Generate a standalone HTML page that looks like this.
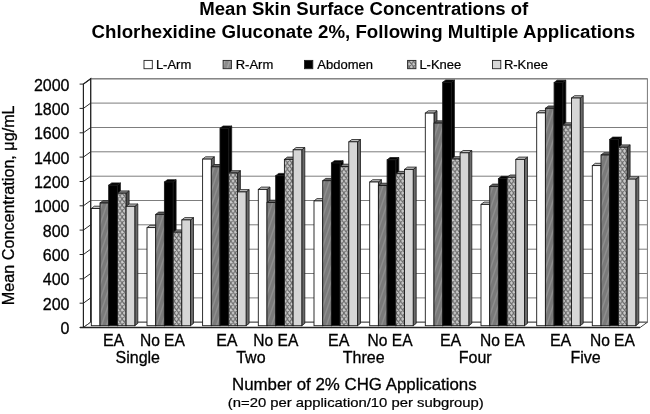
<!DOCTYPE html>
<html><head><meta charset="utf-8"><title>Mean Skin Surface Concentrations</title>
<style>
html,body{margin:0;padding:0;background:#fff;}
body{width:650px;height:414px;position:relative;overflow:hidden;}
.tb{font-family:"Liberation Sans",sans-serif;fill:#000;}
.ts{font-family:"Liberation Sans",sans-serif;fill:#000;stroke:#000;stroke-width:0.22px;}
.t{font-family:"Liberation Sans",sans-serif;fill:#000;stroke:#000;stroke-width:0.3px;}
</style></head><body>
<svg width="650" height="414" viewBox="0 0 650 414" style="position:absolute;left:0;top:0;filter:blur(0.45px)">
<defs>
<pattern id="pRA" width="5" height="15" patternUnits="userSpaceOnUse"><rect width="5" height="15" fill="#7a7a7a"/><path d="M-1,18 L6,-3 M-6,18 L1,-3 M4,18 L11,-3" stroke="#8e8e8e" stroke-width="1.4"/></pattern>
<pattern id="pRAl" width="5" height="15" patternUnits="userSpaceOnUse"><rect width="5" height="15" fill="#8c8c8c"/><path d="M-1,18 L6,-3 M-6,18 L1,-3 M4,18 L11,-3" stroke="#a4a4a4" stroke-width="1.4"/></pattern>
<pattern id="pLK" width="4.35" height="6.0" patternUnits="userSpaceOnUse" x="0.3" y="1"><rect width="4.35" height="6.0" fill="#c8c8c8"/><path d="M-6.52,-3.00 L2.17,9.00 M-6.52,9.00 L2.17,-3.00 M-2.17,-3.00 L6.52,9.00 M-2.17,9.00 L6.52,-3.00 M2.17,-3.00 L10.88,9.00 M2.17,9.00 L10.88,-3.00 " stroke="#6c6c6c" stroke-width="1.05" fill="none"/></pattern>
</defs>
<rect x="90.7" y="78.8" width="556.7" height="243.4" fill="#fff" stroke="#777" stroke-width="1"/>
<path d="M79.6,327.5 H83.4 L90.7,322.2" fill="none" stroke="#2a2a2a" stroke-width="1"/>
<path d="M90.7,297.9 H647.4" fill="none" stroke="#7d7d7d" stroke-width="1"/>
<path d="M79.6,303.2 H83.4 L90.7,297.9" fill="none" stroke="#2a2a2a" stroke-width="1"/>
<path d="M90.7,273.5 H647.4" fill="none" stroke="#7d7d7d" stroke-width="1"/>
<path d="M79.6,278.8 H83.4 L90.7,273.5" fill="none" stroke="#2a2a2a" stroke-width="1"/>
<path d="M90.7,249.2 H647.4" fill="none" stroke="#7d7d7d" stroke-width="1"/>
<path d="M79.6,254.5 H83.4 L90.7,249.2" fill="none" stroke="#2a2a2a" stroke-width="1"/>
<path d="M90.7,224.8 H647.4" fill="none" stroke="#7d7d7d" stroke-width="1"/>
<path d="M79.6,230.1 H83.4 L90.7,224.8" fill="none" stroke="#2a2a2a" stroke-width="1"/>
<path d="M90.7,200.5 H647.4" fill="none" stroke="#7d7d7d" stroke-width="1"/>
<path d="M79.6,205.8 H83.4 L90.7,200.5" fill="none" stroke="#2a2a2a" stroke-width="1"/>
<path d="M90.7,176.2 H647.4" fill="none" stroke="#7d7d7d" stroke-width="1"/>
<path d="M79.6,181.5 H83.4 L90.7,176.2" fill="none" stroke="#2a2a2a" stroke-width="1"/>
<path d="M90.7,151.8 H647.4" fill="none" stroke="#7d7d7d" stroke-width="1"/>
<path d="M79.6,157.1 H83.4 L90.7,151.8" fill="none" stroke="#2a2a2a" stroke-width="1"/>
<path d="M90.7,127.5 H647.4" fill="none" stroke="#7d7d7d" stroke-width="1"/>
<path d="M79.6,132.8 H83.4 L90.7,127.5" fill="none" stroke="#2a2a2a" stroke-width="1"/>
<path d="M90.7,103.1 H647.4" fill="none" stroke="#7d7d7d" stroke-width="1"/>
<path d="M79.6,108.4 H83.4 L90.7,103.1" fill="none" stroke="#2a2a2a" stroke-width="1"/>
<path d="M90.7,78.8 H647.4" fill="none" stroke="#7d7d7d" stroke-width="1"/>
<path d="M79.6,84.1 H83.4 L90.7,78.8" fill="none" stroke="#2a2a2a" stroke-width="1"/>
<path d="M83.4,327.5 V84.1 L90.7,78.8 V322.2" fill="none" stroke="#222" stroke-width="1.2"/>
<path d="M83.4,327.5 L90.7,322.2 H647.4 L640.1,327.5 Z" fill="#fff" stroke="#444" stroke-width="1"/>
<path d="M100.0,208.5 l3.0,-2.3 V323.4 L100.0,325.7 Z" fill="#626262" stroke="#1a1a1a" stroke-width="0.8"/>
<path d="M91.3,208.5 l3.0,-2.3 h8.7 L100.0,208.5 Z" fill="#c4c4c4" stroke="#1a1a1a" stroke-width="0.8"/>
<rect x="91.3" y="208.5" width="8.7" height="117.2" fill="#ffffff" stroke="#1a1a1a" stroke-width="0.9"/>
<path d="M108.7,203.0 l3.0,-2.3 V323.4 L108.7,325.7 Z" fill="#444444" stroke="#1a1a1a" stroke-width="0.8"/>
<path d="M100.0,203.0 l3.0,-2.3 h8.7 L108.7,203.0 Z" fill="#666666" stroke="#1a1a1a" stroke-width="0.8"/>
<rect x="100.0" y="203.0" width="8.7" height="122.7" fill="url(#pRA)" stroke="#1a1a1a" stroke-width="0.9"/>
<path d="M117.4,185.2 l3.0,-2.3 V323.4 L117.4,325.7 Z" fill="#000000" stroke="#1a1a1a" stroke-width="0.8"/>
<path d="M108.7,185.2 l3.0,-2.3 h8.7 L117.4,185.2 Z" fill="#000000" stroke="#1a1a1a" stroke-width="0.8"/>
<rect x="108.7" y="185.2" width="8.7" height="140.5" fill="#000000" stroke="#1a1a1a" stroke-width="0.9"/>
<path d="M126.1,193.2 l3.0,-2.3 V323.4 L126.1,325.7 Z" fill="#505050" stroke="#1a1a1a" stroke-width="0.8"/>
<path d="M117.4,193.2 l3.0,-2.3 h8.7 L126.1,193.2 Z" fill="#8a8a8a" stroke="#1a1a1a" stroke-width="0.8"/>
<rect x="117.4" y="193.2" width="8.7" height="132.5" fill="url(#pLK)" stroke="#1a1a1a" stroke-width="0.9"/>
<path d="M134.8,206.3 l3.0,-2.3 V323.4 L134.8,325.7 Z" fill="#6a6a6a" stroke="#1a1a1a" stroke-width="0.8"/>
<path d="M126.1,206.3 l3.0,-2.3 h8.7 L134.8,206.3 Z" fill="#c0c0c0" stroke="#1a1a1a" stroke-width="0.8"/>
<rect x="126.1" y="206.3" width="8.7" height="119.4" fill="#d6d6d6" stroke="#1a1a1a" stroke-width="0.9"/>
<path d="M155.7,227.6 l3.0,-2.3 V323.4 L155.7,325.7 Z" fill="#626262" stroke="#1a1a1a" stroke-width="0.8"/>
<path d="M147.0,227.6 l3.0,-2.3 h8.7 L155.7,227.6 Z" fill="#c4c4c4" stroke="#1a1a1a" stroke-width="0.8"/>
<rect x="147.0" y="227.6" width="8.7" height="98.1" fill="#ffffff" stroke="#1a1a1a" stroke-width="0.9"/>
<path d="M164.4,214.4 l3.0,-2.3 V323.4 L164.4,325.7 Z" fill="#444444" stroke="#1a1a1a" stroke-width="0.8"/>
<path d="M155.7,214.4 l3.0,-2.3 h8.7 L164.4,214.4 Z" fill="#666666" stroke="#1a1a1a" stroke-width="0.8"/>
<rect x="155.7" y="214.4" width="8.7" height="111.3" fill="url(#pRA)" stroke="#1a1a1a" stroke-width="0.9"/>
<path d="M173.1,182.0 l3.0,-2.3 V323.4 L173.1,325.7 Z" fill="#000000" stroke="#1a1a1a" stroke-width="0.8"/>
<path d="M164.4,182.0 l3.0,-2.3 h8.7 L173.1,182.0 Z" fill="#000000" stroke="#1a1a1a" stroke-width="0.8"/>
<rect x="164.4" y="182.0" width="8.7" height="143.7" fill="#000000" stroke="#1a1a1a" stroke-width="0.9"/>
<path d="M181.8,232.2 l3.0,-2.3 V323.4 L181.8,325.7 Z" fill="#505050" stroke="#1a1a1a" stroke-width="0.8"/>
<path d="M173.1,232.2 l3.0,-2.3 h8.7 L181.8,232.2 Z" fill="#8a8a8a" stroke="#1a1a1a" stroke-width="0.8"/>
<rect x="173.1" y="232.2" width="8.7" height="93.5" fill="url(#pLK)" stroke="#1a1a1a" stroke-width="0.9"/>
<path d="M190.5,219.9 l3.0,-2.3 V323.4 L190.5,325.7 Z" fill="#6a6a6a" stroke="#1a1a1a" stroke-width="0.8"/>
<path d="M181.8,219.9 l3.0,-2.3 h8.7 L190.5,219.9 Z" fill="#c0c0c0" stroke="#1a1a1a" stroke-width="0.8"/>
<rect x="181.8" y="219.9" width="8.7" height="105.8" fill="#d6d6d6" stroke="#1a1a1a" stroke-width="0.9"/>
<path d="M211.3,159.1 l3.0,-2.3 V323.4 L211.3,325.7 Z" fill="#626262" stroke="#1a1a1a" stroke-width="0.8"/>
<path d="M202.6,159.1 l3.0,-2.3 h8.7 L211.3,159.1 Z" fill="#c4c4c4" stroke="#1a1a1a" stroke-width="0.8"/>
<rect x="202.6" y="159.1" width="8.7" height="166.6" fill="#ffffff" stroke="#1a1a1a" stroke-width="0.9"/>
<path d="M220.0,166.8 l3.0,-2.3 V323.4 L220.0,325.7 Z" fill="#444444" stroke="#1a1a1a" stroke-width="0.8"/>
<path d="M211.3,166.8 l3.0,-2.3 h8.7 L220.0,166.8 Z" fill="#666666" stroke="#1a1a1a" stroke-width="0.8"/>
<rect x="211.3" y="166.8" width="8.7" height="158.9" fill="url(#pRA)" stroke="#1a1a1a" stroke-width="0.9"/>
<path d="M228.7,128.3 l3.0,-2.3 V323.4 L228.7,325.7 Z" fill="#000000" stroke="#1a1a1a" stroke-width="0.8"/>
<path d="M220.0,128.3 l3.0,-2.3 h8.7 L228.7,128.3 Z" fill="#000000" stroke="#1a1a1a" stroke-width="0.8"/>
<rect x="220.0" y="128.3" width="8.7" height="197.4" fill="#000000" stroke="#1a1a1a" stroke-width="0.9"/>
<path d="M237.4,173.0 l3.0,-2.3 V323.4 L237.4,325.7 Z" fill="#505050" stroke="#1a1a1a" stroke-width="0.8"/>
<path d="M228.7,173.0 l3.0,-2.3 h8.7 L237.4,173.0 Z" fill="#8a8a8a" stroke="#1a1a1a" stroke-width="0.8"/>
<rect x="228.7" y="173.0" width="8.7" height="152.7" fill="url(#pLK)" stroke="#1a1a1a" stroke-width="0.9"/>
<path d="M246.1,191.9 l3.0,-2.3 V323.4 L246.1,325.7 Z" fill="#6a6a6a" stroke="#1a1a1a" stroke-width="0.8"/>
<path d="M237.4,191.9 l3.0,-2.3 h8.7 L246.1,191.9 Z" fill="#c0c0c0" stroke="#1a1a1a" stroke-width="0.8"/>
<rect x="237.4" y="191.9" width="8.7" height="133.8" fill="#d6d6d6" stroke="#1a1a1a" stroke-width="0.9"/>
<path d="M267.0,189.4 l3.0,-2.3 V323.4 L267.0,325.7 Z" fill="#626262" stroke="#1a1a1a" stroke-width="0.8"/>
<path d="M258.3,189.4 l3.0,-2.3 h8.7 L267.0,189.4 Z" fill="#c4c4c4" stroke="#1a1a1a" stroke-width="0.8"/>
<rect x="258.3" y="189.4" width="8.7" height="136.3" fill="#ffffff" stroke="#1a1a1a" stroke-width="0.9"/>
<path d="M275.7,202.5 l3.0,-2.3 V323.4 L275.7,325.7 Z" fill="#444444" stroke="#1a1a1a" stroke-width="0.8"/>
<path d="M267.0,202.5 l3.0,-2.3 h8.7 L275.7,202.5 Z" fill="#666666" stroke="#1a1a1a" stroke-width="0.8"/>
<rect x="267.0" y="202.5" width="8.7" height="123.2" fill="url(#pRA)" stroke="#1a1a1a" stroke-width="0.9"/>
<path d="M284.4,175.7 l3.0,-2.3 V323.4 L284.4,325.7 Z" fill="#000000" stroke="#1a1a1a" stroke-width="0.8"/>
<path d="M275.7,175.7 l3.0,-2.3 h8.7 L284.4,175.7 Z" fill="#000000" stroke="#1a1a1a" stroke-width="0.8"/>
<rect x="275.7" y="175.7" width="8.7" height="150.0" fill="#000000" stroke="#1a1a1a" stroke-width="0.9"/>
<path d="M293.1,159.4 l3.0,-2.3 V323.4 L293.1,325.7 Z" fill="#505050" stroke="#1a1a1a" stroke-width="0.8"/>
<path d="M284.4,159.4 l3.0,-2.3 h8.7 L293.1,159.4 Z" fill="#8a8a8a" stroke="#1a1a1a" stroke-width="0.8"/>
<rect x="284.4" y="159.4" width="8.7" height="166.3" fill="url(#pLK)" stroke="#1a1a1a" stroke-width="0.9"/>
<path d="M301.8,149.8 l3.0,-2.3 V323.4 L301.8,325.7 Z" fill="#6a6a6a" stroke="#1a1a1a" stroke-width="0.8"/>
<path d="M293.1,149.8 l3.0,-2.3 h8.7 L301.8,149.8 Z" fill="#c0c0c0" stroke="#1a1a1a" stroke-width="0.8"/>
<rect x="293.1" y="149.8" width="8.7" height="175.9" fill="#d6d6d6" stroke="#1a1a1a" stroke-width="0.9"/>
<path d="M322.7,200.9 l3.0,-2.3 V323.4 L322.7,325.7 Z" fill="#626262" stroke="#1a1a1a" stroke-width="0.8"/>
<path d="M314.0,200.9 l3.0,-2.3 h8.7 L322.7,200.9 Z" fill="#c4c4c4" stroke="#1a1a1a" stroke-width="0.8"/>
<rect x="314.0" y="200.9" width="8.7" height="124.8" fill="#ffffff" stroke="#1a1a1a" stroke-width="0.9"/>
<path d="M331.4,180.7 l3.0,-2.3 V323.4 L331.4,325.7 Z" fill="#444444" stroke="#1a1a1a" stroke-width="0.8"/>
<path d="M322.7,180.7 l3.0,-2.3 h8.7 L331.4,180.7 Z" fill="#666666" stroke="#1a1a1a" stroke-width="0.8"/>
<rect x="322.7" y="180.7" width="8.7" height="145.0" fill="url(#pRA)" stroke="#1a1a1a" stroke-width="0.9"/>
<path d="M340.1,163.0 l3.0,-2.3 V323.4 L340.1,325.7 Z" fill="#000000" stroke="#1a1a1a" stroke-width="0.8"/>
<path d="M331.4,163.0 l3.0,-2.3 h8.7 L340.1,163.0 Z" fill="#000000" stroke="#1a1a1a" stroke-width="0.8"/>
<rect x="331.4" y="163.0" width="8.7" height="162.7" fill="#000000" stroke="#1a1a1a" stroke-width="0.9"/>
<path d="M348.8,166.5 l3.0,-2.3 V323.4 L348.8,325.7 Z" fill="#505050" stroke="#1a1a1a" stroke-width="0.8"/>
<path d="M340.1,166.5 l3.0,-2.3 h8.7 L348.8,166.5 Z" fill="#8a8a8a" stroke="#1a1a1a" stroke-width="0.8"/>
<rect x="340.1" y="166.5" width="8.7" height="159.2" fill="url(#pLK)" stroke="#1a1a1a" stroke-width="0.9"/>
<path d="M357.5,141.8 l3.0,-2.3 V323.4 L357.5,325.7 Z" fill="#6a6a6a" stroke="#1a1a1a" stroke-width="0.8"/>
<path d="M348.8,141.8 l3.0,-2.3 h8.7 L357.5,141.8 Z" fill="#c0c0c0" stroke="#1a1a1a" stroke-width="0.8"/>
<rect x="348.8" y="141.8" width="8.7" height="183.9" fill="#d6d6d6" stroke="#1a1a1a" stroke-width="0.9"/>
<path d="M378.4,182.0 l3.0,-2.3 V323.4 L378.4,325.7 Z" fill="#626262" stroke="#1a1a1a" stroke-width="0.8"/>
<path d="M369.7,182.0 l3.0,-2.3 h8.7 L378.4,182.0 Z" fill="#c4c4c4" stroke="#1a1a1a" stroke-width="0.8"/>
<rect x="369.7" y="182.0" width="8.7" height="143.7" fill="#ffffff" stroke="#1a1a1a" stroke-width="0.9"/>
<path d="M387.1,185.5 l3.0,-2.3 V323.4 L387.1,325.7 Z" fill="#444444" stroke="#1a1a1a" stroke-width="0.8"/>
<path d="M378.4,185.5 l3.0,-2.3 h8.7 L387.1,185.5 Z" fill="#666666" stroke="#1a1a1a" stroke-width="0.8"/>
<rect x="378.4" y="185.5" width="8.7" height="140.2" fill="url(#pRA)" stroke="#1a1a1a" stroke-width="0.9"/>
<path d="M395.8,159.8 l3.0,-2.3 V323.4 L395.8,325.7 Z" fill="#000000" stroke="#1a1a1a" stroke-width="0.8"/>
<path d="M387.1,159.8 l3.0,-2.3 h8.7 L395.8,159.8 Z" fill="#000000" stroke="#1a1a1a" stroke-width="0.8"/>
<rect x="387.1" y="159.8" width="8.7" height="165.9" fill="#000000" stroke="#1a1a1a" stroke-width="0.9"/>
<path d="M404.5,173.7 l3.0,-2.3 V323.4 L404.5,325.7 Z" fill="#505050" stroke="#1a1a1a" stroke-width="0.8"/>
<path d="M395.8,173.7 l3.0,-2.3 h8.7 L404.5,173.7 Z" fill="#8a8a8a" stroke="#1a1a1a" stroke-width="0.8"/>
<rect x="395.8" y="173.7" width="8.7" height="152.0" fill="url(#pLK)" stroke="#1a1a1a" stroke-width="0.9"/>
<path d="M413.2,169.4 l3.0,-2.3 V323.4 L413.2,325.7 Z" fill="#6a6a6a" stroke="#1a1a1a" stroke-width="0.8"/>
<path d="M404.5,169.4 l3.0,-2.3 h8.7 L413.2,169.4 Z" fill="#c0c0c0" stroke="#1a1a1a" stroke-width="0.8"/>
<rect x="404.5" y="169.4" width="8.7" height="156.3" fill="#d6d6d6" stroke="#1a1a1a" stroke-width="0.9"/>
<path d="M434.0,113.1 l3.0,-2.3 V323.4 L434.0,325.7 Z" fill="#626262" stroke="#1a1a1a" stroke-width="0.8"/>
<path d="M425.3,113.1 l3.0,-2.3 h8.7 L434.0,113.1 Z" fill="#c4c4c4" stroke="#1a1a1a" stroke-width="0.8"/>
<rect x="425.3" y="113.1" width="8.7" height="212.6" fill="#ffffff" stroke="#1a1a1a" stroke-width="0.9"/>
<path d="M442.7,123.1 l3.0,-2.3 V323.4 L442.7,325.7 Z" fill="#444444" stroke="#1a1a1a" stroke-width="0.8"/>
<path d="M434.0,123.1 l3.0,-2.3 h8.7 L442.7,123.1 Z" fill="#666666" stroke="#1a1a1a" stroke-width="0.8"/>
<rect x="434.0" y="123.1" width="8.7" height="202.6" fill="url(#pRA)" stroke="#1a1a1a" stroke-width="0.9"/>
<path d="M451.4,82.3 l3.0,-2.3 V323.4 L451.4,325.7 Z" fill="#000000" stroke="#1a1a1a" stroke-width="0.8"/>
<path d="M442.7,82.3 l3.0,-2.3 h8.7 L451.4,82.3 Z" fill="#000000" stroke="#1a1a1a" stroke-width="0.8"/>
<rect x="442.7" y="82.3" width="8.7" height="243.4" fill="#000000" stroke="#1a1a1a" stroke-width="0.9"/>
<path d="M460.1,159.0 l3.0,-2.3 V323.4 L460.1,325.7 Z" fill="#505050" stroke="#1a1a1a" stroke-width="0.8"/>
<path d="M451.4,159.0 l3.0,-2.3 h8.7 L460.1,159.0 Z" fill="#8a8a8a" stroke="#1a1a1a" stroke-width="0.8"/>
<rect x="451.4" y="159.0" width="8.7" height="166.7" fill="url(#pLK)" stroke="#1a1a1a" stroke-width="0.9"/>
<path d="M468.8,152.8 l3.0,-2.3 V323.4 L468.8,325.7 Z" fill="#6a6a6a" stroke="#1a1a1a" stroke-width="0.8"/>
<path d="M460.1,152.8 l3.0,-2.3 h8.7 L468.8,152.8 Z" fill="#c0c0c0" stroke="#1a1a1a" stroke-width="0.8"/>
<rect x="460.1" y="152.8" width="8.7" height="172.9" fill="#d6d6d6" stroke="#1a1a1a" stroke-width="0.9"/>
<path d="M489.7,204.4 l3.0,-2.3 V323.4 L489.7,325.7 Z" fill="#626262" stroke="#1a1a1a" stroke-width="0.8"/>
<path d="M481.0,204.4 l3.0,-2.3 h8.7 L489.7,204.4 Z" fill="#c4c4c4" stroke="#1a1a1a" stroke-width="0.8"/>
<rect x="481.0" y="204.4" width="8.7" height="121.3" fill="#ffffff" stroke="#1a1a1a" stroke-width="0.9"/>
<path d="M498.4,186.4 l3.0,-2.3 V323.4 L498.4,325.7 Z" fill="#444444" stroke="#1a1a1a" stroke-width="0.8"/>
<path d="M489.7,186.4 l3.0,-2.3 h8.7 L498.4,186.4 Z" fill="#666666" stroke="#1a1a1a" stroke-width="0.8"/>
<rect x="489.7" y="186.4" width="8.7" height="139.3" fill="url(#pRA)" stroke="#1a1a1a" stroke-width="0.9"/>
<path d="M507.1,178.6 l3.0,-2.3 V323.4 L507.1,325.7 Z" fill="#000000" stroke="#1a1a1a" stroke-width="0.8"/>
<path d="M498.4,178.6 l3.0,-2.3 h8.7 L507.1,178.6 Z" fill="#000000" stroke="#1a1a1a" stroke-width="0.8"/>
<rect x="498.4" y="178.6" width="8.7" height="147.1" fill="#000000" stroke="#1a1a1a" stroke-width="0.9"/>
<path d="M515.8,177.3 l3.0,-2.3 V323.4 L515.8,325.7 Z" fill="#505050" stroke="#1a1a1a" stroke-width="0.8"/>
<path d="M507.1,177.3 l3.0,-2.3 h8.7 L515.8,177.3 Z" fill="#8a8a8a" stroke="#1a1a1a" stroke-width="0.8"/>
<rect x="507.1" y="177.3" width="8.7" height="148.4" fill="url(#pLK)" stroke="#1a1a1a" stroke-width="0.9"/>
<path d="M524.5,159.4 l3.0,-2.3 V323.4 L524.5,325.7 Z" fill="#6a6a6a" stroke="#1a1a1a" stroke-width="0.8"/>
<path d="M515.8,159.4 l3.0,-2.3 h8.7 L524.5,159.4 Z" fill="#c0c0c0" stroke="#1a1a1a" stroke-width="0.8"/>
<rect x="515.8" y="159.4" width="8.7" height="166.3" fill="#d6d6d6" stroke="#1a1a1a" stroke-width="0.9"/>
<path d="M545.4,112.9 l3.0,-2.3 V323.4 L545.4,325.7 Z" fill="#626262" stroke="#1a1a1a" stroke-width="0.8"/>
<path d="M536.7,112.9 l3.0,-2.3 h8.7 L545.4,112.9 Z" fill="#c4c4c4" stroke="#1a1a1a" stroke-width="0.8"/>
<rect x="536.7" y="112.9" width="8.7" height="212.8" fill="#ffffff" stroke="#1a1a1a" stroke-width="0.9"/>
<path d="M554.1,108.3 l3.0,-2.3 V323.4 L554.1,325.7 Z" fill="#444444" stroke="#1a1a1a" stroke-width="0.8"/>
<path d="M545.4,108.3 l3.0,-2.3 h8.7 L554.1,108.3 Z" fill="#666666" stroke="#1a1a1a" stroke-width="0.8"/>
<rect x="545.4" y="108.3" width="8.7" height="217.4" fill="url(#pRA)" stroke="#1a1a1a" stroke-width="0.9"/>
<path d="M562.8,82.5 l3.0,-2.3 V323.4 L562.8,325.7 Z" fill="#000000" stroke="#1a1a1a" stroke-width="0.8"/>
<path d="M554.1,82.5 l3.0,-2.3 h8.7 L562.8,82.5 Z" fill="#000000" stroke="#1a1a1a" stroke-width="0.8"/>
<rect x="554.1" y="82.5" width="8.7" height="243.2" fill="#000000" stroke="#1a1a1a" stroke-width="0.9"/>
<path d="M571.5,125.1 l3.0,-2.3 V323.4 L571.5,325.7 Z" fill="#505050" stroke="#1a1a1a" stroke-width="0.8"/>
<path d="M562.8,125.1 l3.0,-2.3 h8.7 L571.5,125.1 Z" fill="#8a8a8a" stroke="#1a1a1a" stroke-width="0.8"/>
<rect x="562.8" y="125.1" width="8.7" height="200.6" fill="url(#pLK)" stroke="#1a1a1a" stroke-width="0.9"/>
<path d="M580.2,98.0 l3.0,-2.3 V323.4 L580.2,325.7 Z" fill="#6a6a6a" stroke="#1a1a1a" stroke-width="0.8"/>
<path d="M571.5,98.0 l3.0,-2.3 h8.7 L580.2,98.0 Z" fill="#c0c0c0" stroke="#1a1a1a" stroke-width="0.8"/>
<rect x="571.5" y="98.0" width="8.7" height="227.7" fill="#d6d6d6" stroke="#1a1a1a" stroke-width="0.9"/>
<path d="M601.0,165.6 l3.0,-2.3 V323.4 L601.0,325.7 Z" fill="#626262" stroke="#1a1a1a" stroke-width="0.8"/>
<path d="M592.3,165.6 l3.0,-2.3 h8.7 L601.0,165.6 Z" fill="#c4c4c4" stroke="#1a1a1a" stroke-width="0.8"/>
<rect x="592.3" y="165.6" width="8.7" height="160.1" fill="#ffffff" stroke="#1a1a1a" stroke-width="0.9"/>
<path d="M609.7,155.0 l3.0,-2.3 V323.4 L609.7,325.7 Z" fill="#444444" stroke="#1a1a1a" stroke-width="0.8"/>
<path d="M601.0,155.0 l3.0,-2.3 h8.7 L609.7,155.0 Z" fill="#666666" stroke="#1a1a1a" stroke-width="0.8"/>
<rect x="601.0" y="155.0" width="8.7" height="170.7" fill="url(#pRA)" stroke="#1a1a1a" stroke-width="0.9"/>
<path d="M618.4,139.4 l3.0,-2.3 V323.4 L618.4,325.7 Z" fill="#000000" stroke="#1a1a1a" stroke-width="0.8"/>
<path d="M609.7,139.4 l3.0,-2.3 h8.7 L618.4,139.4 Z" fill="#000000" stroke="#1a1a1a" stroke-width="0.8"/>
<rect x="609.7" y="139.4" width="8.7" height="186.3" fill="#000000" stroke="#1a1a1a" stroke-width="0.9"/>
<path d="M627.1,147.2 l3.0,-2.3 V323.4 L627.1,325.7 Z" fill="#505050" stroke="#1a1a1a" stroke-width="0.8"/>
<path d="M618.4,147.2 l3.0,-2.3 h8.7 L627.1,147.2 Z" fill="#8a8a8a" stroke="#1a1a1a" stroke-width="0.8"/>
<rect x="618.4" y="147.2" width="8.7" height="178.5" fill="url(#pLK)" stroke="#1a1a1a" stroke-width="0.9"/>
<path d="M635.8,179.1 l3.0,-2.3 V323.4 L635.8,325.7 Z" fill="#6a6a6a" stroke="#1a1a1a" stroke-width="0.8"/>
<path d="M627.1,179.1 l3.0,-2.3 h8.7 L635.8,179.1 Z" fill="#c0c0c0" stroke="#1a1a1a" stroke-width="0.8"/>
<rect x="627.1" y="179.1" width="8.7" height="146.6" fill="#d6d6d6" stroke="#1a1a1a" stroke-width="0.9"/>
<path d="M79.9,327.5 H640.1" stroke="#222" stroke-width="1.6" fill="none"/>
<rect x="144" y="60.4" width="8.3" height="8.3" fill="#fff" stroke="#222" stroke-width="0.9"/>
<text x="155.9" y="69.2" font-size="13.0" class="ts">L-Arm</text>
<rect x="223.1" y="60.4" width="8.3" height="8.3" fill="url(#pRAl)" stroke="#222" stroke-width="0.9"/>
<text x="235.7" y="69.2" font-size="13.0" class="ts">R-Arm</text>
<rect x="304.5" y="60.4" width="8.3" height="8.3" fill="#000" stroke="#222" stroke-width="0.9"/>
<text x="317.3" y="69.2" font-size="13.0" class="ts">Abdomen</text>
<rect x="407.6" y="60.4" width="8.3" height="8.3" fill="url(#pLK)" stroke="#222" stroke-width="0.9"/>
<text x="419.4" y="69.2" font-size="13.0" class="ts">L-Knee</text>
<rect x="492.5" y="60.4" width="8.3" height="8.3" fill="#d6d6d6" stroke="#222" stroke-width="0.9"/>
<text x="503.9" y="69.2" font-size="13.0" class="ts">R-Knee</text>
<text x="69.5" y="334.1" font-size="16" text-anchor="end" class="t">0</text>
<text x="69.5" y="309.8" font-size="16" text-anchor="end" class="t">200</text>
<text x="69.5" y="285.4" font-size="16" text-anchor="end" class="t">400</text>
<text x="69.5" y="261.1" font-size="16" text-anchor="end" class="t">600</text>
<text x="69.5" y="236.7" font-size="16" text-anchor="end" class="t">800</text>
<text x="69.5" y="212.4" font-size="16" text-anchor="end" class="t">1000</text>
<text x="69.5" y="188.1" font-size="16" text-anchor="end" class="t">1200</text>
<text x="69.5" y="163.7" font-size="16" text-anchor="end" class="t">1400</text>
<text x="69.5" y="139.4" font-size="16" text-anchor="end" class="t">1600</text>
<text x="69.5" y="115.0" font-size="16" text-anchor="end" class="t">1800</text>
<text x="69.5" y="90.7" font-size="16" text-anchor="end" class="t">2000</text>
<text transform="translate(14.4,305.2) rotate(-90)" font-size="16" class="t" textLength="199.8" lengthAdjust="spacingAndGlyphs">Mean Concentration, μg/mL</text>
<text x="102.9" y="345.6" font-size="16" class="t">EA</text>
<text x="216.2" y="345.6" font-size="16" class="t">EA</text>
<text x="328.1" y="345.6" font-size="16" class="t">EA</text>
<text x="439.9" y="345.6" font-size="16" class="t">EA</text>
<text x="549.9" y="345.6" font-size="16" class="t">EA</text>
<text x="139.9" y="345.6" font-size="16" class="t" textLength="45" lengthAdjust="spacingAndGlyphs">No EA</text>
<text x="253.3" y="345.6" font-size="16" class="t" textLength="45" lengthAdjust="spacingAndGlyphs">No EA</text>
<text x="367.6" y="345.6" font-size="16" class="t" textLength="45" lengthAdjust="spacingAndGlyphs">No EA</text>
<text x="479.9" y="345.6" font-size="16" class="t" textLength="45" lengthAdjust="spacingAndGlyphs">No EA</text>
<text x="589.9" y="345.6" font-size="16" class="t" textLength="45" lengthAdjust="spacingAndGlyphs">No EA</text>
<text x="115.5" y="363.2" font-size="16" class="t">Single</text>
<text x="236.2" y="363.2" font-size="16" class="t">Two</text>
<text x="342.8" y="363.2" font-size="16" class="t">Three</text>
<text x="458.8" y="363.2" font-size="16" class="t">Four</text>
<text x="570.5" y="363.2" font-size="16" class="t">Five</text>
<text x="232.0" y="389.6" font-size="16.4" class="t" textLength="244.7" lengthAdjust="spacingAndGlyphs">Number of 2% CHG Applications</text>
<text x="227.8" y="407" font-size="13.2" class="ts" textLength="256" lengthAdjust="spacingAndGlyphs">(n=20 per application/10 per subgroup)</text>
<text x="199.3" y="15.3" font-size="18.3" font-weight="bold" class="tb" textLength="329" lengthAdjust="spacingAndGlyphs">Mean Skin Surface Concentrations of</text>
<text x="91.6" y="38.2" font-size="18.3" font-weight="bold" class="tb" textLength="543.5" lengthAdjust="spacingAndGlyphs">Chlorhexidine Gluconate 2%, Following Multiple Applications</text>
</svg>
</body></html>
